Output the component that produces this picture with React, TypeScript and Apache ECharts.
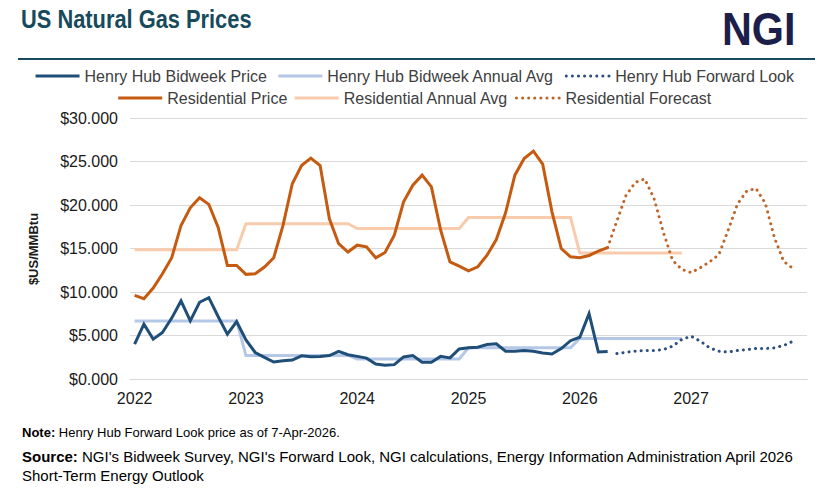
import React, { useEffect, useRef } from "react";
import * as echarts from "echarts";

// Monthly axis: Jan 2022 through Jan 2028
const startYear = 2022;
const monthCount = 73;
const yearLabels = ["2022", "2023", "2024", "2025", "2026", "2027"];

// $/MMBtu, Jan 2022 - Apr 2026
const henryHubBidweek = [
  4.0, 6.3, 4.58, 5.34, 7.0, 8.97, 6.68, 8.82, 9.35, 7.18, 5.15, 6.6,
  4.5, 3.05, 2.48, 1.95, 2.1, 2.18, 2.67, 2.56, 2.6, 2.7, 3.17, 2.79,
  2.6, 2.4, 1.73, 1.58, 1.65, 2.54, 2.7, 1.92, 1.92, 2.6, 2.42, 3.46,
  3.58, 3.65, 3.96, 4.04, 3.19, 3.19, 3.27, 3.2, 3.0, 2.88, 3.5, 4.4,
  4.8, 7.5, 3.1, 3.15,
];

// May 2026 - Dec 2027
const forwardLookStart = 52;
const henryHubForwardLook = [
  2.92, 3.08, 3.2, 3.27, 3.27, 3.38, 3.77, 4.54,
  4.92, 4.35, 3.58, 3.19, 3.1, 3.27, 3.38, 3.5, 3.5, 3.58, 3.85, 4.35,
];

// 2022 - 2026
const henryHubAnnualAvg = [6.68, 2.71, 2.31, 3.58, 4.65];

// Jan 2022 - Apr 2026
const residentialPrice = [
  9.62, 9.23, 10.46, 12.1, 13.94, 17.65, 19.68, 20.83, 20.07, 17.46, 13.06, 13.06,
  12.03, 12.1, 12.87, 13.94, 17.65, 22.44, 24.54, 25.38, 24.54, 18.42, 15.55, 14.59,
  15.38, 15.19, 13.93, 14.54, 16.53, 20.36, 22.28, 23.43, 22.09, 17.1, 13.47, 12.97,
  12.43, 12.9, 14.23, 16.03, 19.1, 23.43, 25.34, 26.19, 24.69, 19.21, 15.0, 14.04,
  13.93, 14.2, 14.7, 15.1,
];

// Apr 2026 - Dec 2027
const residentialForecastStart = 51;
const residentialForecast = [
  15.1, 18.15, 21.15, 22.6, 23.0, 20.77, 16.9, 13.65, 12.6,
  12.23, 12.8, 13.46, 14.3, 17.1, 20.1, 21.6, 21.9, 20.2, 16.2, 13.5, 12.7,
];

// 2022 - 2026
const residentialAnnualAvg = [14.85, 17.85, 17.3, 18.57, 14.47];

const months: string[] = Array.from({ length: monthCount }, (_, i) => {
  const y = startYear + Math.floor(i / 12);
  const m = (i % 12) + 1;
  return `${y}-${m < 10 ? "0" + m : m}`;
});

function placeAt(values: number[], start: number): (number | null)[] {
  const out: (number | null)[] = new Array(monthCount).fill(null);
  values.forEach((v, i) => {
    out[start + i] = v;
  });
  return out;
}

function spreadAnnual(values: number[]): (number | null)[] {
  const out: (number | null)[] = new Array(monthCount).fill(null);
  values.forEach((v, yi) => {
    for (let m = 0; m < 12; m++) out[yi * 12 + m] = v;
  });
  return out;
}

const FONT = "'Liberation Sans', Arial, Helvetica, sans-serif";
const DOTS = [0.1, 6];

export default function App() {
  const ref = useRef<HTMLDivElement>(null);

  useEffect(() => {
    document.body.style.margin = "0";
    if (!ref.current) return;
    const chart = echarts.init(ref.current, undefined, { renderer: "svg" });

    const lineSeries = (
      name: string,
      data: (number | null)[],
      color: string,
      z: number,
      dotted = false
    ) => ({
      name,
      type: "line",
      data,
      symbol: "none",
      z,
      connectNulls: false,
      itemStyle: { color },
      lineStyle: dotted
        ? { color, width: 3, type: DOTS, cap: "round" }
        : { color, width: 3, cap: "butt", join: "miter" },
      emphasis: { disabled: true },
    });

    const legendBase = {
      left: "center",
      itemWidth: 44,
      itemHeight: 12,
      itemStyle: { opacity: 0 },
      lineStyle: { width: 3 },
      textStyle: { fontSize: 16, color: "#404040", fontFamily: FONT },
    };

    chart.setOption({
      animation: false,
      textStyle: { fontFamily: FONT },
      grid: {
        left: 130,
        right: 21,
        top: 118,
        bottom: 109,
        containLabel: false,
        outerBoundsMode: "none",
      },
      legend: [
        {
          ...legendBase,
          top: 63,
          itemGap: 10,
          data: [
            "Henry Hub Bidweek Price",
            "Henry Hub Bidweek Annual Avg",
            "Henry Hub Forward Look",
          ],
        },
        {
          ...legendBase,
          top: 85,
          itemGap: 6,
          data: ["Residential Price", "Residential Annual Avg", "Residential Forecast"],
        },
      ],
      xAxis: {
        type: "category",
        data: months,
        boundaryGap: true,
        axisLine: { show: true, lineStyle: { color: "#d9d9d9", width: 1 } },
        axisTick: { show: false },
        axisLabel: {
          interval: (index: number) => index % 12 === 0 && index / 12 < yearLabels.length,
          formatter: (_v: string, index: number) => yearLabels[Math.floor(index / 12)] ?? "",
          fontSize: 16,
          color: "#1a1a1a",
          margin: 11,
          fontFamily: FONT,
        },
        splitLine: { show: false },
      },
      yAxis: {
        type: "value",
        min: 0,
        max: 30,
        interval: 5,
        axisLine: { show: false },
        axisTick: { show: false },
        axisLabel: {
          formatter: (v: number) => "$" + v.toFixed(3),
          fontSize: 16,
          color: "#1a1a1a",
          margin: 12,
          fontFamily: FONT,
        },
        splitLine: { lineStyle: { color: "#d9d9d9", width: 1 } },
      },
      series: [
        lineSeries("Henry Hub Bidweek Price", placeAt(henryHubBidweek, 0), "#1f4e79", 5),
        lineSeries("Henry Hub Bidweek Annual Avg", spreadAnnual(henryHubAnnualAvg), "#b4c7e7", 3),
        lineSeries(
          "Henry Hub Forward Look",
          placeAt(henryHubForwardLook, forwardLookStart),
          "#2b4f81",
          4,
          true
        ),
        lineSeries("Residential Price", placeAt(residentialPrice, 0), "#c55a11", 5),
        lineSeries("Residential Annual Avg", spreadAnnual(residentialAnnualAvg), "#f8cbad", 3),
        lineSeries(
          "Residential Forecast",
          placeAt(residentialForecast, residentialForecastStart),
          "#c0652a",
          4,
          true
        ),
      ],
      graphic: [
        {
          type: "text",
          x: 21,
          y: 19,
          scaleX: 0.84,
          style: {
            text: "US Natural Gas Prices",
            fontSize: 26,
            fontWeight: "bold",
            fill: "#174a5b",
            fontFamily: FONT,
            align: "left",
            verticalAlign: "middle",
          },
        },
        {
          type: "text",
          x: 722,
          y: 29,
          scaleX: 0.88,
          style: {
            text: "NGI",
            fontSize: 47,
            fontWeight: "bold",
            fill: "#1c1f4a",
            fontFamily: FONT,
            align: "left",
            verticalAlign: "middle",
          },
        },
        {
          type: "line",
          shape: { x1: 18, y1: 59, x2: 815, y2: 59 },
          style: { stroke: "#174a5b", lineWidth: 2 },
        },
        {
          type: "text",
          x: 33,
          y: 249,
          rotation: Math.PI / 2,
          style: {
            text: "$US/MMBtu",
            fontSize: 13,
            fontWeight: "bold",
            fill: "#1a1a1a",
            fontFamily: FONT,
            align: "center",
            verticalAlign: "middle",
          },
        },
        {
          type: "text",
          x: 22,
          y: 432,
          style: {
            text: "{b|Note:} Henry Hub Forward Look price as of 7-Apr-2026.",
            fontSize: 13,
            fill: "#000",
            fontFamily: FONT,
            verticalAlign: "middle",
            rich: {
              b: { fontSize: 13, fontWeight: "bold", fill: "#000", fontFamily: FONT },
            },
          },
        },
        {
          type: "text",
          x: 22,
          y: 456,
          style: {
            text:
              "{b|Source:} NGI's Bidweek Survey, NGI's Forward Look, NGI calculations, Energy Information Administration April 2026",
            fontSize: 15,
            fill: "#000",
            fontFamily: FONT,
            verticalAlign: "middle",
            rich: {
              b: { fontSize: 15, fontWeight: "bold", fill: "#000", fontFamily: FONT },
            },
          },
        },
        {
          type: "text",
          x: 22,
          y: 475,
          style: {
            text: "Short-Term Energy Outlook",
            fontSize: 15,
            fill: "#000",
            fontFamily: FONT,
            verticalAlign: "middle",
          },
        },
      ],
    });

    return () => chart.dispose();
  }, []);

  return <div ref={ref} style={{ width: 828, height: 488 }} />;
}
